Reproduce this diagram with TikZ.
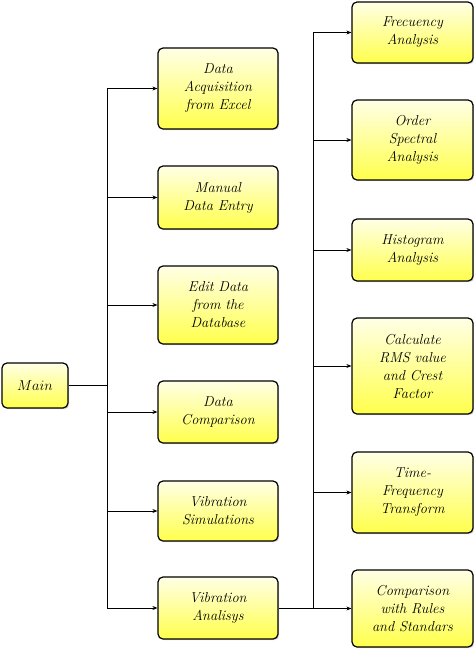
\documentclass[tikz,border=0pt]{standalone}
\usetikzlibrary{shadows,arrows.meta}
\begin{document}
\begin{tikzpicture}[x=1pt,y=-1pt,
  box/.style={draw=black, line width=1.2pt, rounded corners=5pt,
    top color=yellow!10, bottom color=yellow!70,
    drop shadow={shadow xshift=1.2pt, shadow yshift=-1.2pt, opacity=0.35},
    align=center, font=\Large\itshape, inner sep=2pt},
  lbox/.style={box, minimum width=120pt, text width=112pt},
  rbox/.style={box, minimum width=121pt, text width=113pt},
  conn/.style={line width=0.8pt},
  arr/.style={conn, -{Stealth[length=5pt,width=4pt]}}]
\useasboundingbox (0,0) rectangle (474,649);
\node[box, minimum width=66pt, minimum height=45pt] (main) at (35,385.5) {$Main$};
\node[lbox, minimum height=81pt] (acq) at (218,88.5) {Data\\Acquisition\\from Excel};
\node[lbox, minimum height=63pt] (man) at (218,197.5) {Manual\\Data Entry};
\node[lbox, minimum height=78pt] (edit) at (218,305) {Edit Data\\from the\\Database};
\node[lbox, minimum height=62pt] (comp) at (218,412) {Data\\Comparison};
\node[lbox, minimum height=60pt] (sim) at (218,511) {Vibration\\Simulations};
\node[lbox, minimum height=62pt] (vib) at (218,608) {Vibration\\Analisys};
\node[rbox, minimum height=61pt] (frec) at (412.5,32.5) {Frecuency\\Analysis};
\node[rbox, minimum height=80pt] (ord) at (412.5,140) {Order\\Spectral\\Analysis};
\node[rbox, minimum height=62pt] (hist) at (412.5,250) {Histogram\\Analysis};
\node[rbox, minimum height=96pt] (rms) at (412.5,366) {Calculate\\RMS value\\and Crest\\Factor};
\node[rbox, minimum height=81pt] (tf) at (412.5,492.5) {Time-\\Frequency\\Transform};
\node[rbox, minimum height=77pt] (cmp) at (412.5,608.5) {Comparison\\with Rules\\and Standars};
\coordinate (tl) at (107,0);
\coordinate (tr) at (313,0);
\draw[conn] (main.east) -- (tl |- main.east);
\draw[conn] (tl |- acq.west) -- (tl |- vib.west);
\foreach \n in {acq,man,edit,comp,sim,vib} \draw[arr] (tl |- \n.west) -- (\n.west);
\draw[conn] (vib.east) -- (tr |- vib.east);
\draw[conn] (tr |- frec.west) -- (tr |- cmp.west);
\foreach \n in {frec,ord,hist,rms,tf,cmp} \draw[arr] (tr |- \n.west) -- (\n.west);
\end{tikzpicture}
\end{document}
